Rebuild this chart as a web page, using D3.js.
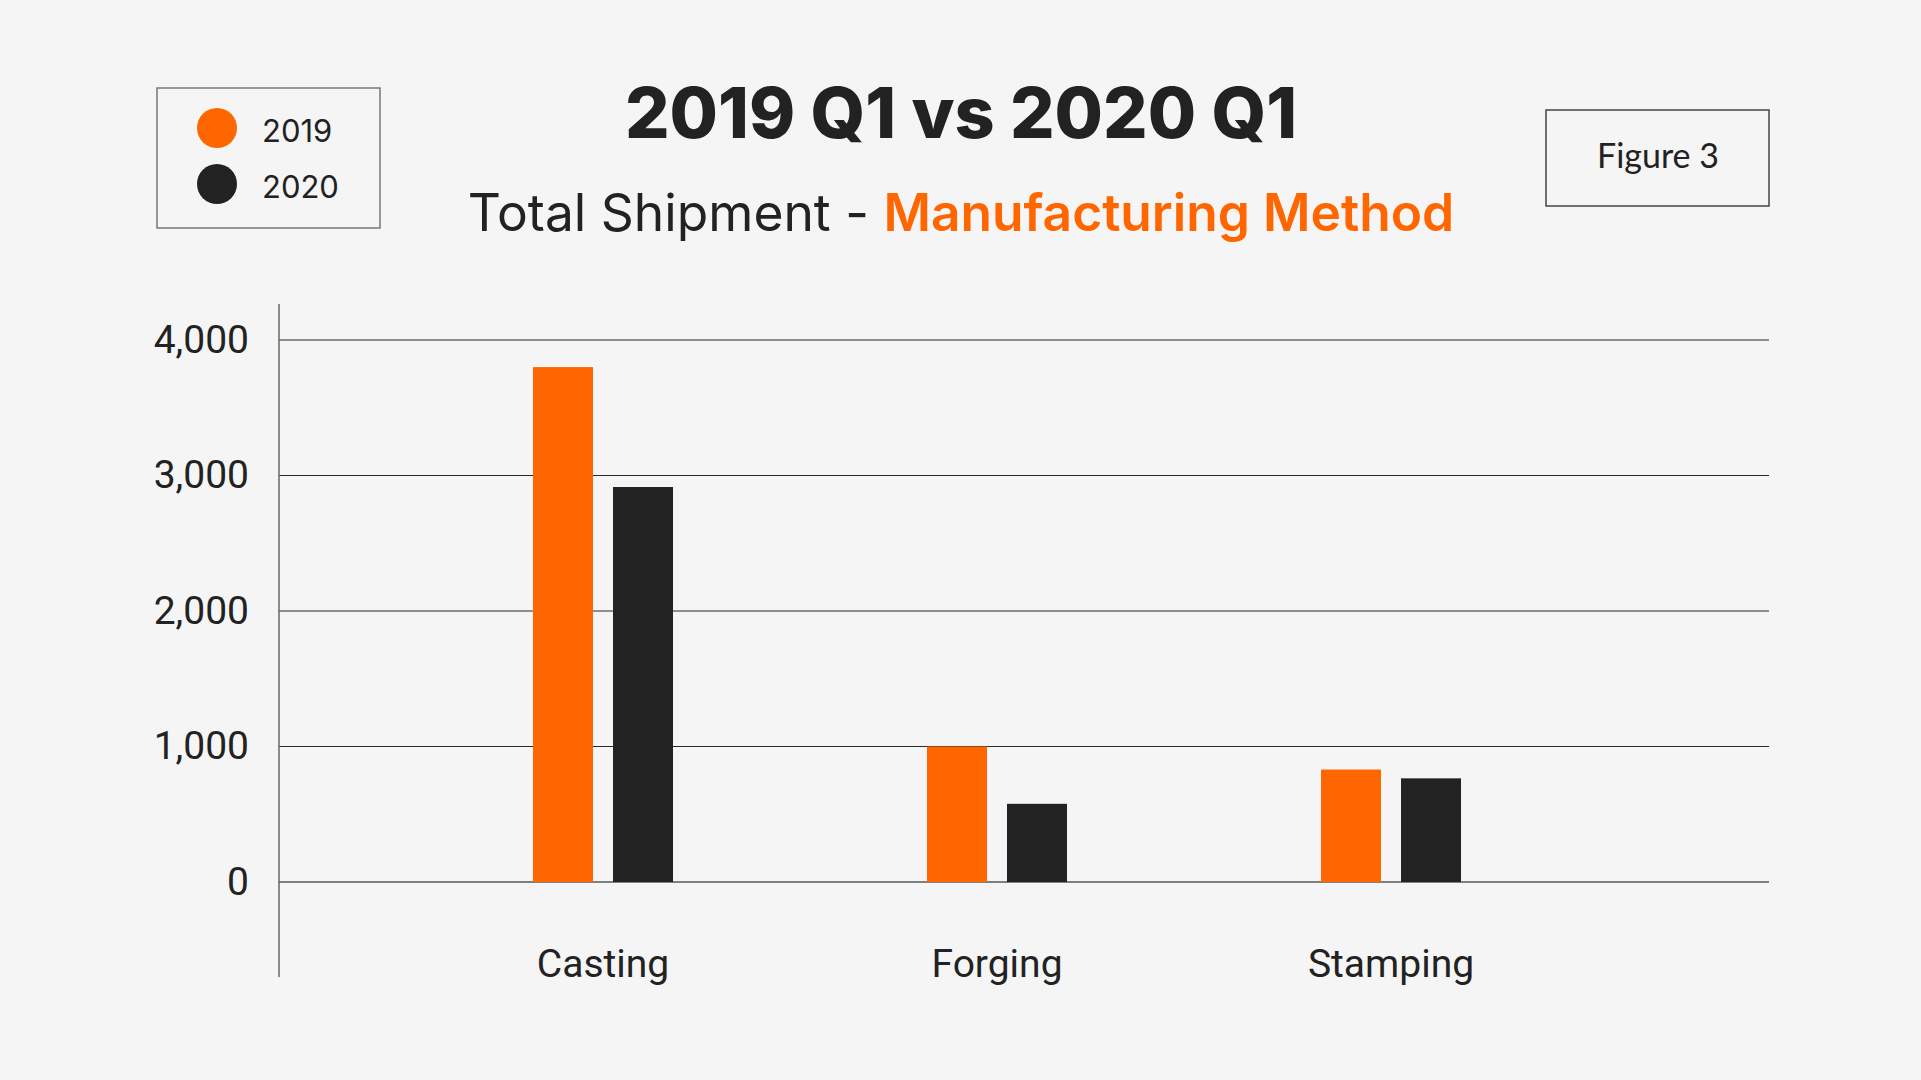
<!DOCTYPE html>
<html>
<head>
    <meta charset="utf-8">
    <title>2019 Q1 vs 2020 Q1</title>
    <script src="https://cdn.jsdelivr.net/npm/d3@7/dist/d3.min.js"></script>
    <style>
        html, body { margin: 0; padding: 0; background: #f5f5f5; }
        svg { display: block; }
    </style>
</head>
<body>
<script>
    // data
    var categories = ['Casting', 'Forging', 'Stamping'];
    var seriesNames = ['2019', '2020'];
    var values2019 = [3800, 1000, 830];
    var values2020 = [2915, 577, 765];
    var yTicks = [0, 1000, 2000, 3000, 4000];

    var colors = {'2019': '#ff6600', '2020': '#222222'};
    var width = 1921, height = 1080;

    var svg = d3.select('body').append('svg')
            .attr('width', width).attr('height', height);

    svg.append('rect').attr('width', width).attr('height', height).attr('fill', '#f5f5f5');

    // titles
    svg.append('text')
            .attr('x', 961).attr('y', 138)
            .attr('text-anchor', 'middle')
            .attr('font-family', 'Inter, sans-serif')
            .attr('font-weight', 800)
            .attr('font-size', 70)
            .attr('fill', '#222')
            .text('2019 Q1 vs 2020 Q1');

    var sub = svg.append('text')
            .attr('x', 961).attr('y', 231)
            .attr('text-anchor', 'middle')
            .attr('font-family', 'Inter, sans-serif')
            .attr('font-size', 51.5)
            .attr('fill', '#222');
    sub.append('tspan').text('Total Shipment - ');
    sub.append('tspan').attr('fill', '#ff6600').attr('font-weight', 600).text('Manufacturing Method');

    // legend
    var legend = svg.append('g');
    legend.append('rect')
            .attr('x', 157).attr('y', 88).attr('width', 223).attr('height', 140)
            .attr('fill', 'none').attr('stroke', '#777').attr('stroke-width', 1.5);
    var legendY = d3.scalePoint().domain(seriesNames).range([128, 184]);
    var li = legend.selectAll('g.item').data(seriesNames).enter().append('g').attr('class', 'item');
    li.append('circle')
            .attr('cx', 217).attr('cy', function (d) { return legendY(d); })
            .attr('r', 20)
            .attr('fill', function (d) { return colors[d]; });
    li.append('text')
            .attr('x', 262).attr('y', function (d) { return legendY(d) + 3; })
            .attr('dy', '0.35em')
            .attr('font-family', 'Inter, sans-serif')
            .attr('font-size', 31)
            .attr('fill', '#222')
            .text(function (d) { return d; });

    // figure box
    svg.append('rect')
            .attr('x', 1546).attr('y', 110).attr('width', 223).attr('height', 96)
            .attr('fill', 'none').attr('stroke', '#444').attr('stroke-width', 1.5);
    svg.append('text')
            .attr('x', 1658).attr('y', 156).attr('dy', '0.35em')
            .attr('text-anchor', 'middle')
            .attr('font-family', 'Lato, sans-serif')
            .attr('font-size', 34)
            .attr('fill', '#222')
            .text('Figure 3');

    // scales
    var y = d3.scaleLinear().domain([0, 4000]).range([882, 340]);
    var x0 = d3.scaleBand().domain(categories).range([406, 1588]);
    var x1 = d3.scaleBand().domain(seriesNames).range([0, 140]).paddingInner(0.25);

    // grid
    var grid = svg.append('g');
    grid.selectAll('line').data(yTicks).enter().append('line')
            .attr('x1', 279).attr('x2', 1769)
            .attr('y1', function (d) { return y(d); })
            .attr('y2', function (d) { return y(d); })
            .attr('stroke', function (d) { return d === 0 ? '#808080' : '#2a2a2a'; })
            .attr('stroke-width', function (d) { return d === 0 ? 2 : 1.2; });

    // y axis
    var yAxis = d3.axisLeft(y).tickValues(yTicks).tickSize(0).tickPadding(30)
            .tickFormat(d3.format(','));
    var ya = svg.append('g').attr('transform', 'translate(279,0)').call(yAxis);
    ya.select('.domain').remove();
    ya.selectAll('text')
            .attr('font-family', 'Roboto, sans-serif')
            .attr('font-size', 39)
            .attr('fill', '#222');
    svg.append('line')
            .attr('x1', 279).attr('x2', 279).attr('y1', 304).attr('y2', 977)
            .attr('stroke', '#666').attr('stroke-width', 1.5);

    // bars
    var rows = categories.map(function (c, i) {
        return {cat: c, vals: [{k: '2019', v: values2019[i]}, {k: '2020', v: values2020[i]}]};
    });
    var groups = svg.selectAll('g.grp').data(rows).enter().append('g')
            .attr('class', 'grp')
            .attr('transform', function (d) {
                return 'translate(' + (x0(d.cat) + x0.bandwidth() / 2 - 70) + ',0)';
            });
    groups.selectAll('rect').data(function (d) { return d.vals; }).enter().append('rect')
            .attr('x', function (d) { return x1(d.k); })
            .attr('y', function (d) { return y(d.v); })
            .attr('width', x1.bandwidth())
            .attr('height', function (d) { return y(0) - y(d.v); })
            .attr('fill', function (d) { return colors[d.k]; });

    // x axis labels
    var xAxis = d3.axisBottom(x0).tickSize(0).tickPadding(0);
    var xa = svg.append('g').attr('transform', 'translate(0,949)').call(xAxis);
    xa.select('.domain').remove();
    xa.selectAll('text')
            .attr('font-family', 'Roboto, sans-serif')
            .attr('font-size', 39)
            .attr('fill', '#222');
</script>
</body>
</html>
